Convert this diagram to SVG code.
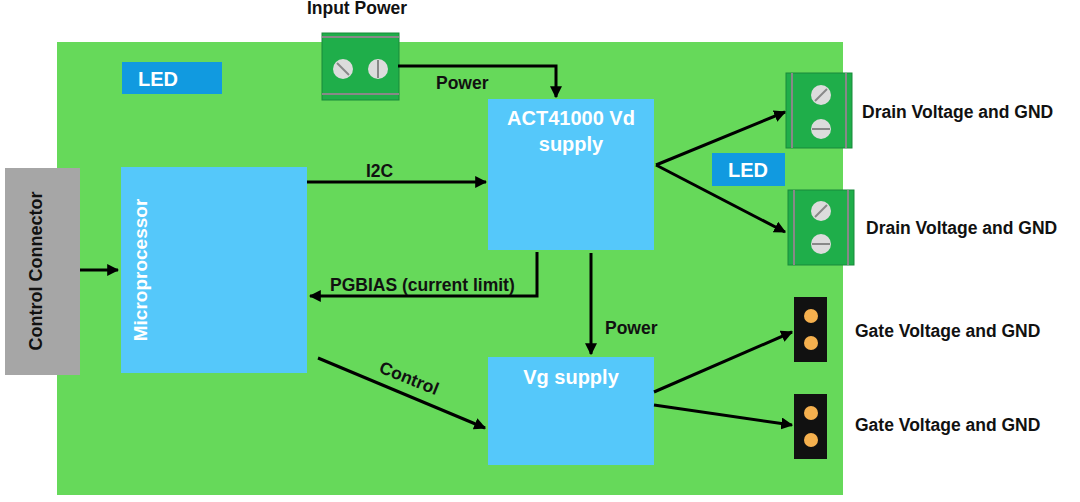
<svg xmlns="http://www.w3.org/2000/svg" width="1080" height="502" viewBox="0 0 1080 502">
<style>
text{font-family:"Liberation Sans",Arial,sans-serif;font-weight:bold}
.lbl{font-size:17.5px;fill:#111}
.wt{fill:#fff;font-size:20px}
.blk{fill:#55c8fa}
.c{stroke:#000;stroke-width:3;fill:none;marker-end:url(#ah)}
.term{fill:#1fae4a;stroke:#188a3a}
.sc{fill:#dcdcdc}
.slot{stroke:#888;stroke-width:2}
.led{fill:#119ae0}
</style>
<defs><marker id="ah" viewBox="0 0 10 10" refX="9" refY="5" markerWidth="4" markerHeight="4" orient="auto"><path d="M0,0L10,5L0,10z" fill="#000"/></marker></defs>
<rect width="1080" height="502" fill="#fff"/>
<rect x="57" y="42" width="786" height="453" fill="#66d95a"/>
<g id="control-connector"><rect x="5" y="168" width="75" height="207" fill="#a6a6a6"/><text transform="translate(42,271) rotate(-90)" text-anchor="middle" style="fill:#111;font-size:18px">Control Connector</text></g>
<g id="microprocessor"><rect class="blk" x="121" y="167" width="186" height="206"/><text class="wt" transform="translate(147,270) rotate(-90)" text-anchor="middle" style="font-size:19px">Microprocessor</text></g>
<g id="act41000"><rect class="blk" x="488" y="99" width="166" height="151"/><text class="wt" x="571" y="125" text-anchor="middle">ACT41000 Vd</text><text class="wt" x="571" y="151" text-anchor="middle">supply</text></g>
<g id="vg-supply"><rect class="blk" x="488" y="357" width="166" height="108"/><text class="wt" x="571" y="384" text-anchor="middle">Vg supply</text></g>
<g id="led1"><rect class="led" x="122" y="62" width="100" height="32"/><text class="wt" x="158" y="86" text-anchor="middle">LED</text></g>
<g id="led2"><rect class="led" x="712" y="153" width="73" height="33"/><text class="wt" x="748" y="177" text-anchor="middle">LED</text></g>
<g id="input-power"><rect class="term" x="322" y="33" width="77" height="67"/><line x1="322" y1="37" x2="399" y2="37" class="slot"/><line x1="322" y1="94" x2="399" y2="94" class="slot"/><circle class="sc" cx="343" cy="69" r="10"/><circle class="sc" cx="378" cy="69" r="10"/><line class="slot" x1="337" y1="63" x2="349" y2="75"/><line class="slot" x1="378" y1="60" x2="378" y2="78"/><text class="lbl" x="357" y="14" text-anchor="middle">Input Power</text></g>
<g id="drain1"><rect class="term" x="786" y="73" width="66" height="75"/><line class="slot" x1="792" y1="73" x2="792" y2="148"/><line class="slot" x1="846" y1="73" x2="846" y2="148"/><circle class="sc" cx="821" cy="95" r="10"/><circle class="sc" cx="821" cy="129" r="10"/><line class="slot" x1="815" y1="101" x2="827" y2="89"/><line class="slot" x1="812" y1="129" x2="830" y2="129"/><text class="lbl" x="862" y="118">Drain Voltage and GND</text></g>
<g id="drain2"><rect class="term" x="788" y="190" width="66" height="75"/><line class="slot" x1="794" y1="190" x2="794" y2="265"/><line class="slot" x1="848" y1="190" x2="848" y2="265"/><circle class="sc" cx="821" cy="211" r="10"/><circle class="sc" cx="821" cy="244" r="10"/><line class="slot" x1="815" y1="217" x2="827" y2="205"/><line class="slot" x1="812" y1="244" x2="830" y2="244"/><text class="lbl" x="866" y="234">Drain Voltage and GND</text></g>
<g id="gate1"><rect x="794" y="297" width="33" height="65" fill="#111"/><circle cx="811" cy="316" r="7" fill="#f5b04e"/><circle cx="811" cy="343" r="7" fill="#f5b04e"/><text class="lbl" x="855" y="337">Gate Voltage and GND</text></g>
<g id="gate2"><rect x="794" y="394" width="33" height="65" fill="#111"/><circle cx="811" cy="413" r="7" fill="#f5b04e"/><circle cx="811" cy="440" r="7" fill="#f5b04e"/><text class="lbl" x="855" y="431">Gate Voltage and GND</text></g>
<g id="connectors">
<path class="c" d="M398,66H556V97"/>
<path class="c" d="M307,182H486"/>
<path class="c" d="M537,252V296H310"/>
<path class="c" d="M591,253V354"/>
<path class="c" d="M318,358L485,428"/>
<path class="c" d="M656,165L785,112"/>
<path class="c" d="M656,165L785,232"/>
<path class="c" d="M654,392L792,332"/>
<path class="c" d="M654,405L792,425"/>
<path class="c" d="M80,270H118"/>
<text class="lbl" x="436" y="89">Power</text>
<text class="lbl" x="366" y="177">I2C</text>
<text class="lbl" x="330" y="291">PGBIAS (current limit)</text>
<text class="lbl" x="605" y="334">Power</text>
<text class="lbl" transform="translate(378,372) rotate(22)">Control</text>
</g>
</svg>
